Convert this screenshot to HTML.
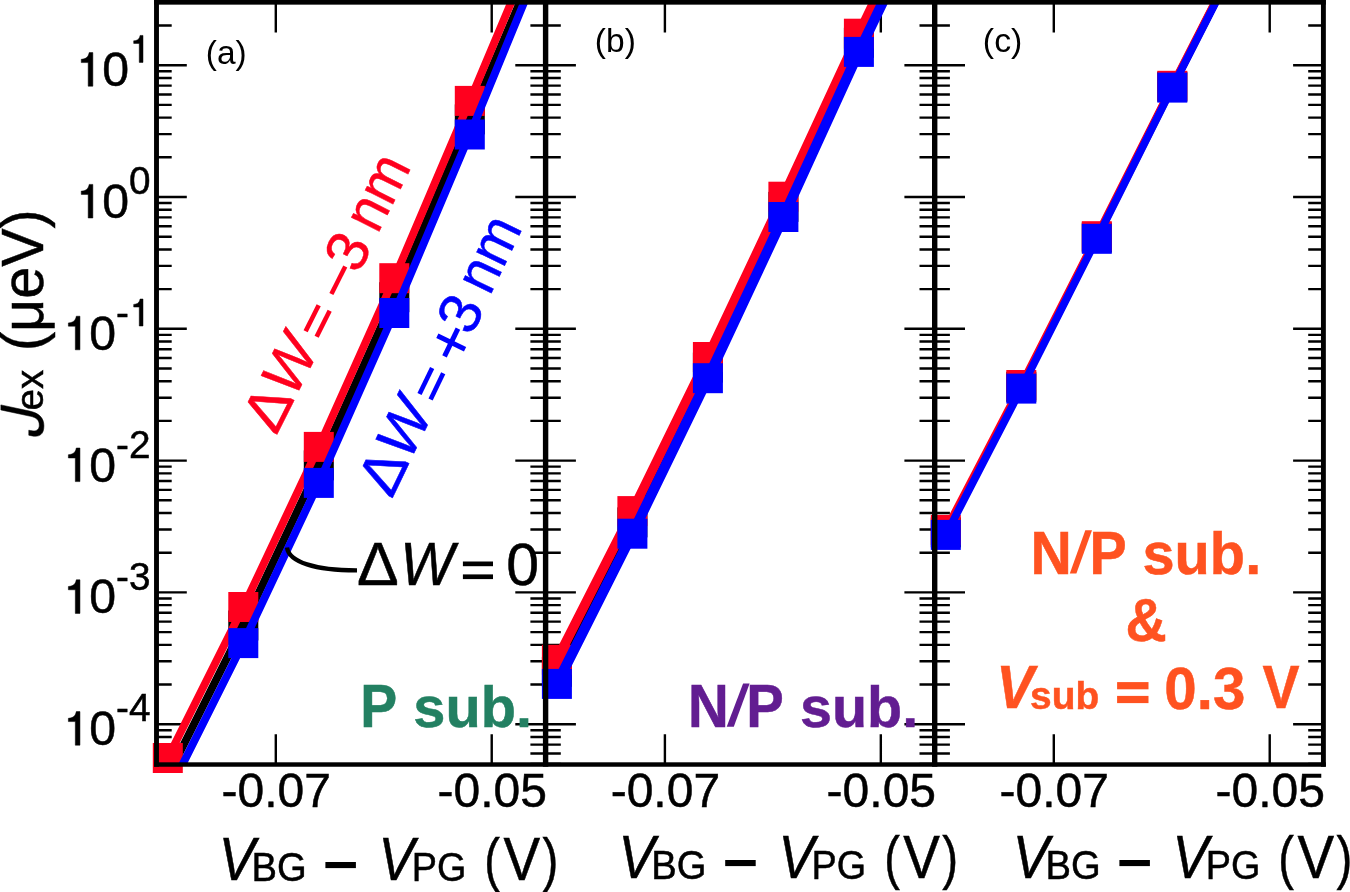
<!DOCTYPE html><html><head><meta charset="utf-8"><title>J_ex vs V_BG - V_PG</title><style>html,body{margin:0;padding:0;background:#fff;overflow:hidden}svg{display:block;will-change:transform}text{font-family:"Liberation Sans", sans-serif}</style></head><body>
<svg width="1350" height="892" viewBox="0 0 1350 892">
<rect width="1350" height="892" fill="#fff"/>
<defs>
<clipPath id="c0"><rect x="156.50" y="2.30" width="389.10" height="762.20"/></clipPath>
<clipPath id="c1"><rect x="545.60" y="2.30" width="389.10" height="762.20"/></clipPath>
<clipPath id="c2"><rect x="934.70" y="2.30" width="388.70" height="762.20"/></clipPath>
</defs>
<path d="M156.50 763.88H171.70M545.60 763.88H530.40M156.50 753.44H171.70M545.60 753.44H530.40M156.50 744.62H171.70M545.60 744.62H530.40M156.50 736.97H171.70M545.60 736.97H530.40M156.50 730.23H171.70M545.60 730.23H530.40M156.50 724.20H186.80M545.60 724.20H515.30M156.50 684.52H171.70M545.60 684.52H530.40M156.50 661.32H171.70M545.60 661.32H530.40M156.50 644.85H171.70M545.60 644.85H530.40M156.50 632.08H171.70M545.60 632.08H530.40M156.50 621.64H171.70M545.60 621.64H530.40M156.50 612.82H171.70M545.60 612.82H530.40M156.50 605.17H171.70M545.60 605.17H530.40M156.50 598.43H171.70M545.60 598.43H530.40M156.50 592.40H186.80M545.60 592.40H515.30M156.50 552.72H171.70M545.60 552.72H530.40M156.50 529.52H171.70M545.60 529.52H530.40M156.50 513.05H171.70M545.60 513.05H530.40M156.50 500.28H171.70M545.60 500.28H530.40M156.50 489.84H171.70M545.60 489.84H530.40M156.50 481.02H171.70M545.60 481.02H530.40M156.50 473.37H171.70M545.60 473.37H530.40M156.50 466.63H171.70M545.60 466.63H530.40M156.50 460.60H186.80M545.60 460.60H515.30M156.50 420.92H171.70M545.60 420.92H530.40M156.50 397.72H171.70M545.60 397.72H530.40M156.50 381.25H171.70M545.60 381.25H530.40M156.50 368.48H171.70M545.60 368.48H530.40M156.50 358.04H171.70M545.60 358.04H530.40M156.50 349.22H171.70M545.60 349.22H530.40M156.50 341.57H171.70M545.60 341.57H530.40M156.50 334.83H171.70M545.60 334.83H530.40M156.50 328.80H186.80M545.60 328.80H515.30M156.50 289.12H171.70M545.60 289.12H530.40M156.50 265.92H171.70M545.60 265.92H530.40M156.50 249.45H171.70M545.60 249.45H530.40M156.50 236.68H171.70M545.60 236.68H530.40M156.50 226.24H171.70M545.60 226.24H530.40M156.50 217.42H171.70M545.60 217.42H530.40M156.50 209.77H171.70M545.60 209.77H530.40M156.50 203.03H171.70M545.60 203.03H530.40M156.50 197.00H186.80M545.60 197.00H515.30M156.50 157.32H171.70M545.60 157.32H530.40M156.50 134.12H171.70M545.60 134.12H530.40M156.50 117.65H171.70M545.60 117.65H530.40M156.50 104.88H171.70M545.60 104.88H530.40M156.50 94.44H171.70M545.60 94.44H530.40M156.50 85.62H171.70M545.60 85.62H530.40M156.50 77.97H171.70M545.60 77.97H530.40M156.50 71.23H171.70M545.60 71.23H530.40M156.50 65.20H186.80M545.60 65.20H515.30M156.50 25.52H171.70M545.60 25.52H530.40M156.50 2.32H171.70M545.60 2.32H530.40M275.80 764.50V734.20M275.80 2.30V32.60M491.72 764.50V734.20M491.72 2.30V32.60M545.60 763.88H560.80M934.70 763.88H919.50M545.60 753.44H560.80M934.70 753.44H919.50M545.60 744.62H560.80M934.70 744.62H919.50M545.60 736.97H560.80M934.70 736.97H919.50M545.60 730.23H560.80M934.70 730.23H919.50M545.60 724.20H575.90M934.70 724.20H904.40M545.60 684.52H560.80M934.70 684.52H919.50M545.60 661.32H560.80M934.70 661.32H919.50M545.60 644.85H560.80M934.70 644.85H919.50M545.60 632.08H560.80M934.70 632.08H919.50M545.60 621.64H560.80M934.70 621.64H919.50M545.60 612.82H560.80M934.70 612.82H919.50M545.60 605.17H560.80M934.70 605.17H919.50M545.60 598.43H560.80M934.70 598.43H919.50M545.60 592.40H575.90M934.70 592.40H904.40M545.60 552.72H560.80M934.70 552.72H919.50M545.60 529.52H560.80M934.70 529.52H919.50M545.60 513.05H560.80M934.70 513.05H919.50M545.60 500.28H560.80M934.70 500.28H919.50M545.60 489.84H560.80M934.70 489.84H919.50M545.60 481.02H560.80M934.70 481.02H919.50M545.60 473.37H560.80M934.70 473.37H919.50M545.60 466.63H560.80M934.70 466.63H919.50M545.60 460.60H575.90M934.70 460.60H904.40M545.60 420.92H560.80M934.70 420.92H919.50M545.60 397.72H560.80M934.70 397.72H919.50M545.60 381.25H560.80M934.70 381.25H919.50M545.60 368.48H560.80M934.70 368.48H919.50M545.60 358.04H560.80M934.70 358.04H919.50M545.60 349.22H560.80M934.70 349.22H919.50M545.60 341.57H560.80M934.70 341.57H919.50M545.60 334.83H560.80M934.70 334.83H919.50M545.60 328.80H575.90M934.70 328.80H904.40M545.60 289.12H560.80M934.70 289.12H919.50M545.60 265.92H560.80M934.70 265.92H919.50M545.60 249.45H560.80M934.70 249.45H919.50M545.60 236.68H560.80M934.70 236.68H919.50M545.60 226.24H560.80M934.70 226.24H919.50M545.60 217.42H560.80M934.70 217.42H919.50M545.60 209.77H560.80M934.70 209.77H919.50M545.60 203.03H560.80M934.70 203.03H919.50M545.60 197.00H575.90M934.70 197.00H904.40M545.60 157.32H560.80M934.70 157.32H919.50M545.60 134.12H560.80M934.70 134.12H919.50M545.60 117.65H560.80M934.70 117.65H919.50M545.60 104.88H560.80M934.70 104.88H919.50M545.60 94.44H560.80M934.70 94.44H919.50M545.60 85.62H560.80M934.70 85.62H919.50M545.60 77.97H560.80M934.70 77.97H919.50M545.60 71.23H560.80M934.70 71.23H919.50M545.60 65.20H575.90M934.70 65.20H904.40M545.60 25.52H560.80M934.70 25.52H919.50M545.60 2.32H560.80M934.70 2.32H919.50M664.90 764.50V734.20M664.90 2.30V32.60M880.82 764.50V734.20M880.82 2.30V32.60M934.70 763.88H949.90M1323.40 763.88H1308.20M934.70 753.44H949.90M1323.40 753.44H1308.20M934.70 744.62H949.90M1323.40 744.62H1308.20M934.70 736.97H949.90M1323.40 736.97H1308.20M934.70 730.23H949.90M1323.40 730.23H1308.20M934.70 724.20H965.00M1323.40 724.20H1293.10M934.70 684.52H949.90M1323.40 684.52H1308.20M934.70 661.32H949.90M1323.40 661.32H1308.20M934.70 644.85H949.90M1323.40 644.85H1308.20M934.70 632.08H949.90M1323.40 632.08H1308.20M934.70 621.64H949.90M1323.40 621.64H1308.20M934.70 612.82H949.90M1323.40 612.82H1308.20M934.70 605.17H949.90M1323.40 605.17H1308.20M934.70 598.43H949.90M1323.40 598.43H1308.20M934.70 592.40H965.00M1323.40 592.40H1293.10M934.70 552.72H949.90M1323.40 552.72H1308.20M934.70 529.52H949.90M1323.40 529.52H1308.20M934.70 513.05H949.90M1323.40 513.05H1308.20M934.70 500.28H949.90M1323.40 500.28H1308.20M934.70 489.84H949.90M1323.40 489.84H1308.20M934.70 481.02H949.90M1323.40 481.02H1308.20M934.70 473.37H949.90M1323.40 473.37H1308.20M934.70 466.63H949.90M1323.40 466.63H1308.20M934.70 460.60H965.00M1323.40 460.60H1293.10M934.70 420.92H949.90M1323.40 420.92H1308.20M934.70 397.72H949.90M1323.40 397.72H1308.20M934.70 381.25H949.90M1323.40 381.25H1308.20M934.70 368.48H949.90M1323.40 368.48H1308.20M934.70 358.04H949.90M1323.40 358.04H1308.20M934.70 349.22H949.90M1323.40 349.22H1308.20M934.70 341.57H949.90M1323.40 341.57H1308.20M934.70 334.83H949.90M1323.40 334.83H1308.20M934.70 328.80H965.00M1323.40 328.80H1293.10M934.70 289.12H949.90M1323.40 289.12H1308.20M934.70 265.92H949.90M1323.40 265.92H1308.20M934.70 249.45H949.90M1323.40 249.45H1308.20M934.70 236.68H949.90M1323.40 236.68H1308.20M934.70 226.24H949.90M1323.40 226.24H1308.20M934.70 217.42H949.90M1323.40 217.42H1308.20M934.70 209.77H949.90M1323.40 209.77H1308.20M934.70 203.03H949.90M1323.40 203.03H1308.20M934.70 197.00H965.00M1323.40 197.00H1293.10M934.70 157.32H949.90M1323.40 157.32H1308.20M934.70 134.12H949.90M1323.40 134.12H1308.20M934.70 117.65H949.90M1323.40 117.65H1308.20M934.70 104.88H949.90M1323.40 104.88H1308.20M934.70 94.44H949.90M1323.40 94.44H1308.20M934.70 85.62H949.90M1323.40 85.62H1308.20M934.70 77.97H949.90M1323.40 77.97H1308.20M934.70 71.23H949.90M1323.40 71.23H1308.20M934.70 65.20H965.00M1323.40 65.20H1293.10M934.70 25.52H949.90M1323.40 25.52H1308.20M934.70 2.32H949.90M1323.40 2.32H1308.20M1053.80 764.50V734.20M1053.80 2.30V32.60M1269.72 764.50V734.20M1269.72 2.30V32.60" stroke="#000" stroke-width="2.40" fill="none"/>
<polyline points="167.80,776.50 243.30,625.50 318.80,465.40 394.30,297.20 469.80,119.40 545.30,-57.50" fill="none" stroke="#000000" stroke-width="7.80" clip-path="url(#c0)"/>
<rect x="228.30" y="610.50" width="30.00" height="30.00" fill="#000000"/>
<rect x="303.80" y="450.40" width="30.00" height="30.00" fill="#000000"/>
<rect x="379.30" y="282.20" width="30.00" height="30.00" fill="#000000"/>
<rect x="454.80" y="104.40" width="30.00" height="30.00" fill="#000000"/>
<polyline points="167.80,758.00 243.30,607.00 318.80,446.90 394.30,278.20 469.80,100.90 545.30,-79.00" fill="none" stroke="#ff001e" stroke-width="7.80" clip-path="url(#c0)"/>
<rect x="152.80" y="743.00" width="30.00" height="30.00" fill="#ff001e"/>
<rect x="228.30" y="592.00" width="30.00" height="30.00" fill="#ff001e"/>
<rect x="303.80" y="431.90" width="30.00" height="30.00" fill="#ff001e"/>
<rect x="379.30" y="263.20" width="30.00" height="30.00" fill="#ff001e"/>
<rect x="454.80" y="85.90" width="30.00" height="30.00" fill="#ff001e"/>
<polyline points="167.80,794.00 243.30,643.10 318.80,482.90 394.30,313.00 469.80,134.50 545.30,-49.10" fill="none" stroke="#0000ff" stroke-width="7.80" clip-path="url(#c0)"/>
<rect x="228.30" y="628.10" width="30.00" height="30.00" fill="#0000ff"/>
<rect x="303.80" y="467.90" width="30.00" height="30.00" fill="#0000ff"/>
<rect x="379.30" y="298.00" width="30.00" height="30.00" fill="#0000ff"/>
<rect x="454.80" y="119.50" width="30.00" height="30.00" fill="#0000ff"/>
<polyline points="556.90,671.85 632.40,522.40 707.90,367.60 783.40,206.85 858.90,42.80 934.40,-114.00" fill="none" stroke="#000000" stroke-width="9.70" clip-path="url(#c1)"/>
<rect x="541.90" y="656.85" width="30.00" height="30.00" fill="#000000"/>
<rect x="617.40" y="507.40" width="30.00" height="30.00" fill="#000000"/>
<rect x="692.90" y="352.60" width="30.00" height="30.00" fill="#000000"/>
<rect x="768.40" y="191.85" width="30.00" height="30.00" fill="#000000"/>
<rect x="843.90" y="27.80" width="30.00" height="30.00" fill="#000000"/>
<polyline points="556.90,659.80 632.40,511.10 707.90,357.00 783.40,196.70 858.90,33.70 934.40,-123.00" fill="none" stroke="#ff001e" stroke-width="9.70" clip-path="url(#c1)"/>
<rect x="541.90" y="644.80" width="30.00" height="30.00" fill="#ff001e"/>
<rect x="617.40" y="496.10" width="30.00" height="30.00" fill="#ff001e"/>
<rect x="692.90" y="342.00" width="30.00" height="30.00" fill="#ff001e"/>
<rect x="768.40" y="181.70" width="30.00" height="30.00" fill="#ff001e"/>
<rect x="843.90" y="18.70" width="30.00" height="30.00" fill="#ff001e"/>
<polyline points="556.90,683.90 632.40,533.70 707.90,378.20 783.40,217.00 858.90,51.90 934.40,-105.00" fill="none" stroke="#0000ff" stroke-width="10.20" clip-path="url(#c1)"/>
<rect x="541.90" y="668.90" width="30.00" height="30.00" fill="#0000ff"/>
<rect x="617.40" y="518.70" width="30.00" height="30.00" fill="#0000ff"/>
<rect x="692.90" y="363.20" width="30.00" height="30.00" fill="#0000ff"/>
<rect x="768.40" y="202.00" width="30.00" height="30.00" fill="#0000ff"/>
<rect x="843.90" y="36.90" width="30.00" height="30.00" fill="#0000ff"/>
<polyline points="945.80,532.40 1021.30,386.80 1096.80,237.50 1172.30,86.70 1247.80,-61.55 1323.30,-221.00" fill="none" stroke="#000000" stroke-width="7.70" clip-path="url(#c2)"/>
<rect x="930.80" y="517.40" width="30.00" height="30.00" fill="#000000"/>
<rect x="1006.30" y="371.80" width="30.00" height="30.00" fill="#000000"/>
<rect x="1081.80" y="222.50" width="30.00" height="30.00" fill="#000000"/>
<rect x="1157.30" y="71.70" width="30.00" height="30.00" fill="#000000"/>
<polyline points="945.80,529.90 1021.30,385.00 1096.80,236.20 1172.30,85.80 1247.80,-62.50 1323.30,-222.00" fill="none" stroke="#ff001e" stroke-width="7.70" clip-path="url(#c2)"/>
<rect x="930.80" y="514.90" width="30.00" height="30.00" fill="#ff001e"/>
<rect x="1006.30" y="370.00" width="30.00" height="30.00" fill="#ff001e"/>
<rect x="1081.80" y="221.20" width="30.00" height="30.00" fill="#ff001e"/>
<rect x="1157.30" y="70.80" width="30.00" height="30.00" fill="#ff001e"/>
<polyline points="945.80,534.90 1021.30,388.60 1096.80,238.80 1172.30,87.60 1247.80,-60.60 1323.30,-220.00" fill="none" stroke="#0000ff" stroke-width="7.70" clip-path="url(#c2)"/>
<rect x="930.80" y="519.90" width="30.00" height="30.00" fill="#0000ff"/>
<rect x="1006.30" y="373.60" width="30.00" height="30.00" fill="#0000ff"/>
<rect x="1081.80" y="223.80" width="30.00" height="30.00" fill="#0000ff"/>
<rect x="1157.30" y="72.60" width="30.00" height="30.00" fill="#0000ff"/>
<rect x="154.10" y="0" width="1171.70" height="4.65" fill="#000"/>
<rect x="154.10" y="762.30" width="1171.70" height="4.45" fill="#000"/>
<rect x="154.05" y="0" width="4.90" height="766.70" fill="#000"/>
<rect x="542.90" y="0" width="5.40" height="766.70" fill="#000"/>
<rect x="932.00" y="0" width="5.40" height="766.70" fill="#000"/>
<rect x="1320.95" y="0" width="4.90" height="766.70" fill="#000"/>
<path transform="translate(128.98,62.40) scale(38.700)" stroke="#000" stroke-width="0.0129" d="M0.362 0L0.266 0L0.266 -0.49L0.122 -0.49L0.122 -0.558C0.235 -0.568 0.268 -0.61 0.286 -0.697L0.362 -0.697Z"/><text x="102.18" y="86.20" font-size="48.2" stroke="#000" stroke-width="0.5">0</text><path transform="translate(75.38,86.20) scale(48.200)" stroke="#000" stroke-width="0.0104" d="M0.362 0L0.266 0L0.266 -0.49L0.122 -0.49L0.122 -0.558C0.235 -0.568 0.268 -0.61 0.286 -0.697L0.362 -0.697Z"/>
<text x="128.98" y="194.20" font-size="38.7" stroke="#000" stroke-width="0.5">0</text><text x="102.18" y="218.00" font-size="48.2" stroke="#000" stroke-width="0.5">0</text><path transform="translate(75.38,218.00) scale(48.200)" stroke="#000" stroke-width="0.0104" d="M0.362 0L0.266 0L0.266 -0.49L0.122 -0.49L0.122 -0.558C0.235 -0.568 0.268 -0.61 0.286 -0.697L0.362 -0.697Z"/>
<path transform="translate(128.98,326.00) scale(38.700)" stroke="#000" stroke-width="0.0129" d="M0.362 0L0.266 0L0.266 -0.49L0.122 -0.49L0.122 -0.558C0.235 -0.568 0.268 -0.61 0.286 -0.697L0.362 -0.697Z"/><text x="116.10" y="326.00" font-size="38.7" stroke="#000" stroke-width="0.5">-</text><text x="89.30" y="349.80" font-size="48.2" stroke="#000" stroke-width="0.5">0</text><path transform="translate(62.50,349.80) scale(48.200)" stroke="#000" stroke-width="0.0104" d="M0.362 0L0.266 0L0.266 -0.49L0.122 -0.49L0.122 -0.558C0.235 -0.568 0.268 -0.61 0.286 -0.697L0.362 -0.697Z"/>
<text x="128.98" y="457.80" font-size="38.7" stroke="#000" stroke-width="0.5">2</text><text x="116.10" y="457.80" font-size="38.7" stroke="#000" stroke-width="0.5">-</text><text x="89.30" y="481.60" font-size="48.2" stroke="#000" stroke-width="0.5">0</text><path transform="translate(62.50,481.60) scale(48.200)" stroke="#000" stroke-width="0.0104" d="M0.362 0L0.266 0L0.266 -0.49L0.122 -0.49L0.122 -0.558C0.235 -0.568 0.268 -0.61 0.286 -0.697L0.362 -0.697Z"/>
<text x="128.98" y="589.60" font-size="38.7" stroke="#000" stroke-width="0.5">3</text><text x="116.10" y="589.60" font-size="38.7" stroke="#000" stroke-width="0.5">-</text><text x="89.30" y="613.40" font-size="48.2" stroke="#000" stroke-width="0.5">0</text><path transform="translate(62.50,613.40) scale(48.200)" stroke="#000" stroke-width="0.0104" d="M0.362 0L0.266 0L0.266 -0.49L0.122 -0.49L0.122 -0.558C0.235 -0.568 0.268 -0.61 0.286 -0.697L0.362 -0.697Z"/>
<text x="128.98" y="721.40" font-size="38.7" stroke="#000" stroke-width="0.5">4</text><text x="116.10" y="721.40" font-size="38.7" stroke="#000" stroke-width="0.5">-</text><text x="89.30" y="745.20" font-size="48.2" stroke="#000" stroke-width="0.5">0</text><path transform="translate(62.50,745.20) scale(48.200)" stroke="#000" stroke-width="0.0104" d="M0.362 0L0.266 0L0.266 -0.49L0.122 -0.49L0.122 -0.558C0.235 -0.568 0.268 -0.61 0.286 -0.697L0.362 -0.697Z"/>
<text x="276.30" y="806.9" font-size="48" text-anchor="middle" stroke="#000" stroke-width="0.5">-0.07</text>
<text x="492.22" y="806.9" font-size="48" text-anchor="middle" stroke="#000" stroke-width="0.5">-0.05</text>
<text x="665.40" y="806.9" font-size="48" text-anchor="middle" stroke="#000" stroke-width="0.5">-0.07</text>
<text x="881.32" y="806.9" font-size="48" text-anchor="middle" stroke="#000" stroke-width="0.5">-0.05</text>
<text x="1054.30" y="806.9" font-size="48" text-anchor="middle" stroke="#000" stroke-width="0.5">-0.07</text>
<text x="1270.22" y="806.9" font-size="48" text-anchor="middle" stroke="#000" stroke-width="0.5">-0.05</text>
<g transform="translate(218.76,880.10) scale(0.9075,1.0195)" fill="#000000" stroke="#000000"><text font-size="60" font-style="italic" stroke-width="0.5">V</text></g>
<g transform="translate(251.54,880.80) scale(0.9538,1.0250)" fill="#000000" stroke="#000000"><text font-size="40" stroke-width="0.5">BG</text></g>
<g transform="translate(378.61,879.80) scale(0.8975,1.0073)" fill="#000000" stroke="#000000"><text font-size="60" font-style="italic" stroke-width="0.5">V</text></g>
<g transform="translate(411.77,880.50) scale(0.9442,1.0000)" fill="#000000" stroke="#000000"><text font-size="40" stroke-width="0.5">PG</text></g>
<g transform="translate(484.35,879.97) scale(0.7824,0.9855)" fill="#000000" stroke="#000000"><text font-size="60" stroke-width="0.5">(</text></g>
<g transform="translate(503.40,879.80) scale(0.9150,1.0171)" fill="#000000" stroke="#000000"><text font-size="60" stroke-width="0.5">V</text></g>
<g transform="translate(542.50,879.97) scale(0.7941,0.9855)" fill="#000000" stroke="#000000"><text font-size="60" stroke-width="0.5">)</text></g>
<g transform="translate(618.56,878.10) scale(0.9075,1.0195)" fill="#000000" stroke="#000000"><text font-size="60" font-style="italic" stroke-width="0.5">V</text></g>
<g transform="translate(651.34,878.80) scale(0.9538,1.0250)" fill="#000000" stroke="#000000"><text font-size="40" stroke-width="0.5">BG</text></g>
<g transform="translate(778.41,877.80) scale(0.8975,1.0073)" fill="#000000" stroke="#000000"><text font-size="60" font-style="italic" stroke-width="0.5">V</text></g>
<g transform="translate(811.57,878.50) scale(0.9442,1.0000)" fill="#000000" stroke="#000000"><text font-size="40" stroke-width="0.5">PG</text></g>
<g transform="translate(884.15,877.97) scale(0.7824,0.9855)" fill="#000000" stroke="#000000"><text font-size="60" stroke-width="0.5">(</text></g>
<g transform="translate(903.20,877.80) scale(0.9150,1.0171)" fill="#000000" stroke="#000000"><text font-size="60" stroke-width="0.5">V</text></g>
<g transform="translate(942.30,877.97) scale(0.7941,0.9855)" fill="#000000" stroke="#000000"><text font-size="60" stroke-width="0.5">)</text></g>
<g transform="translate(1012.76,878.10) scale(0.9075,1.0195)" fill="#000000" stroke="#000000"><text font-size="60" font-style="italic" stroke-width="0.5">V</text></g>
<g transform="translate(1045.54,878.80) scale(0.9538,1.0250)" fill="#000000" stroke="#000000"><text font-size="40" stroke-width="0.5">BG</text></g>
<g transform="translate(1172.61,877.80) scale(0.8975,1.0073)" fill="#000000" stroke="#000000"><text font-size="60" font-style="italic" stroke-width="0.5">V</text></g>
<g transform="translate(1205.77,878.50) scale(0.9442,1.0000)" fill="#000000" stroke="#000000"><text font-size="40" stroke-width="0.5">PG</text></g>
<g transform="translate(1278.35,877.97) scale(0.7824,0.9855)" fill="#000000" stroke="#000000"><text font-size="60" stroke-width="0.5">(</text></g>
<g transform="translate(1297.40,877.80) scale(0.9150,1.0171)" fill="#000000" stroke="#000000"><text font-size="60" stroke-width="0.5">V</text></g>
<g transform="translate(1336.50,877.97) scale(0.7941,0.9855)" fill="#000000" stroke="#000000"><text font-size="60" stroke-width="0.5">)</text></g>
<g transform="rotate(-90) translate(-439.24,42.80) scale(1.0129,1.0000)" fill="#000000" stroke="#000000"><path transform="scale(58.4) skewX(-12)" stroke-width="0.0086" d="M0.428 -0.718L0.428 -0.226C0.428 -0.06 0.36 0.019 0.23 0.019C0.08 0.019 0.017 -0.06 0.017 -0.2L0.017 -0.24L0.102 -0.24L0.102 -0.21C0.102 -0.12 0.14 -0.06 0.225 -0.06C0.31 -0.06 0.343 -0.11 0.343 -0.21L0.343 -0.718Z"/></g>
<g transform="rotate(-90) translate(-410.46,43.30) scale(0.9634,0.9818)" fill="#000000" stroke="#000000"><text font-size="40" stroke-width="0.5">ex</text></g>
<g transform="rotate(-90) translate(-351.08,42.52) scale(0.9585,0.9818)" fill="#000000" stroke="#000000"><text font-size="60" stroke-width="0.5">(μeV)</text></g>
<g transform="translate(205.87,63.80) scale(1.0139,1.0000)" fill="#000000" stroke="#000000"><text font-size="33" stroke="none">(a)</text></g>
<g transform="translate(594.87,51.90) scale(1.0167,1.0000)" fill="#000000" stroke="#000000"><text font-size="33" stroke="none">(b)</text></g>
<g transform="translate(982.85,51.90) scale(1.0265,1.0000)" fill="#000000" stroke="#000000"><text font-size="33" stroke="none">(c)</text></g>
<g transform="translate(356.96,585.20) scale(1.0421,1.0073)" fill="#000000" stroke="#000000"><text font-size="60" stroke-width="0.5">Δ</text></g>
<g transform="translate(400.34,585.20) scale(0.9518,1.0293)" fill="#000000" stroke="#000000"><text font-size="60" font-style="italic" stroke-width="0.5">W</text></g>
<g transform="translate(506.33,585.42) scale(0.9828,0.9814)" fill="#000000" stroke="#000000"><text font-size="60" stroke-width="0.5">0</text></g>
<g transform="translate(360.21,726.80) scale(0.9235,1.0171)" fill="#238062" stroke="#238062"><text font-size="60" font-weight="bold" stroke-width="0.5">P</text></g>
<g transform="translate(413.27,726.83) scale(0.9627,0.9705)" fill="#238062" stroke="#238062"><text font-size="60" font-weight="bold" stroke-width="0.5">sub.</text></g>
<g transform="translate(688.03,726.80) scale(0.9417,1.0171)" fill="#621d91" stroke="#621d91"><text font-size="60" font-weight="bold" stroke-width="0.5">N</text></g>
<g transform="translate(746.35,726.80) scale(0.9382,1.0171)" fill="#621d91" stroke="#621d91"><text font-size="60" font-weight="bold" stroke-width="0.5">P</text></g>
<g transform="translate(799.98,726.54) scale(0.9585,0.9636)" fill="#621d91" stroke="#621d91"><text font-size="60" font-weight="bold" stroke-width="0.5">sub.</text></g>
<g transform="translate(1030.59,573.50) scale(0.9528,1.0293)" fill="#ff5220" stroke="#ff5220"><text font-size="60" font-weight="bold" stroke-width="0.5">N</text></g>
<g transform="translate(1089.38,573.50) scale(0.9294,1.0293)" fill="#ff5220" stroke="#ff5220"><text font-size="60" font-weight="bold" stroke-width="0.5">P</text></g>
<g transform="translate(1142.47,573.71) scale(0.9627,0.9864)" fill="#ff5220" stroke="#ff5220"><text font-size="60" font-weight="bold" stroke-width="0.5">sub.</text></g>
<g transform="translate(1125.50,640.78) scale(0.9525,1.0214)" fill="#ff5220" stroke="#ff5220"><text font-size="60" font-weight="bold" stroke-width="0.5">&amp;</text></g>
<g transform="translate(996.28,708.20) scale(0.9436,1.0268)" fill="#ff5220" stroke="#ff5220"><text font-size="60" font-weight="bold" font-style="italic" stroke-width="0.5">V</text></g>
<g transform="translate(1030.03,708.80) scale(0.9725,0.9533)" fill="#ff5220" stroke="#ff5220"><text font-size="40" font-weight="bold" stroke-width="0.5">sub</text></g>
<g transform="translate(1164.36,708.50) scale(0.9713,0.9977)" fill="#ff5220" stroke="#ff5220"><text font-size="60" font-weight="bold" stroke-width="0.5">0.3</text></g>
<g transform="translate(1262.60,708.00) scale(0.9250,1.0317)" fill="#ff5220" stroke="#ff5220"><text font-size="60" font-weight="bold" stroke-width="0.5">V</text></g>
<rect x="325.40" y="862.00" width="30.5" height="6.1" fill="#000"/>
<rect x="725.20" y="860.00" width="30.5" height="6.1" fill="#000"/>
<rect x="1119.40" y="860.00" width="30.5" height="6.1" fill="#000"/>
<rect x="462.9" y="561.5" width="30.1" height="4.7" fill="#000"/><rect x="462.9" y="574.4" width="30.1" height="4.7" fill="#000"/>
<path d="M287 547.5 C289 562 315 570.5 357 570.4" stroke="#000" stroke-width="4.4" fill="none"/>
<path d="M743.1 683.4L749.6 683.4L733.8 726.8L726.7 726.8Z" fill="#621d91"/>
<path d="M1085.3 530.2L1092 530.2L1076.4 573.5L1069.8 573.5Z" fill="#ff5220"/>
<rect x="1117.1" y="682.1" width="31.4" height="7.2" fill="#ff5220"/><rect x="1117.1" y="695.9" width="31.4" height="7.2" fill="#ff5220"/>
<g transform="translate(277.00,434.40) rotate(-63.300)" fill="#ff001e" stroke="#ff001e" stroke-width="0.5">
<text transform="scale(1.063,1)" x="-1.76" y="0" font-size="59">Δ</text>
<text x="40.30" y="0" font-size="59" font-style="italic">W</text>
<g stroke="none"><rect x="105.1" y="-10.80" width="29" height="4.6"/><rect x="105.1" y="-23.10" width="29" height="4.6"/>
<rect x="149.9" y="-16.75" width="30.8" height="4.5"/>
</g>
<text x="178.95" y="1.0" font-size="59">3</text>
<text transform="translate(227.1,0) scale(0.931,1)" x="-3.92" y="0" font-size="59">nm</text>
</g>
<g transform="translate(392.50,497.70) rotate(-64.200)" fill="#0000ff" stroke="#0000ff" stroke-width="0.5">
<text transform="scale(1.063,1)" x="-1.76" y="0" font-size="59">Δ</text>
<text x="40.30" y="0" font-size="59" font-style="italic">W</text>
<g stroke="none"><rect x="105.1" y="-10.80" width="29" height="4.6"/><rect x="105.1" y="-23.10" width="29" height="4.6"/>
<rect x="149.9" y="-17.20" width="30.8" height="5.0"/>
<rect x="162.80" y="-30.10" width="5.0" height="30.8"/>
</g>
<text x="178.95" y="1.0" font-size="59">3</text>
<text transform="translate(227.1,0) scale(0.931,1)" x="-3.92" y="0" font-size="59">nm</text>
</g>
</svg></body></html>
